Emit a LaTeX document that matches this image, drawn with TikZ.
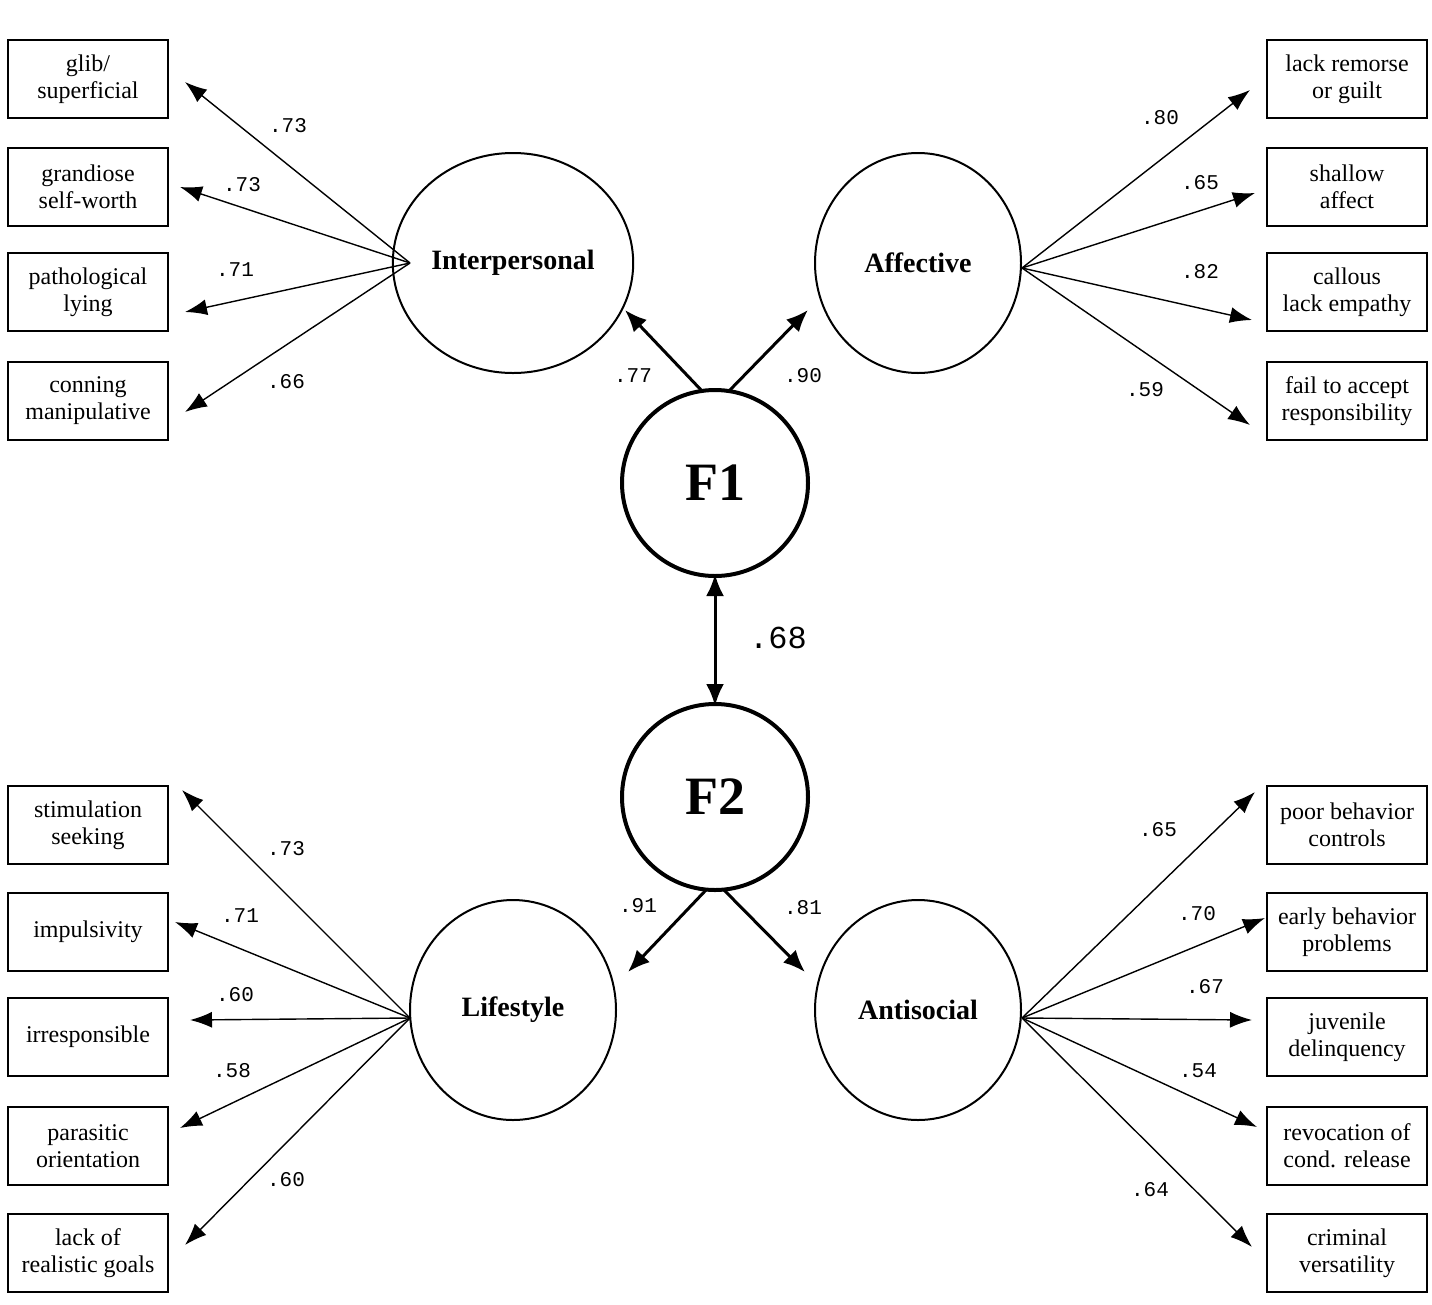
\documentclass[tikz,border=0pt]{standalone}
\usepackage{fontspec}
\setmainfont{Liberation Serif}
\newfontfamily\monof{Liberation Mono}
\usetikzlibrary{arrows.meta,shapes.geometric}
\begin{document}
\begin{tikzpicture}[x=1pt,y=-1pt,
 box/.style={draw,line width=1.6pt,minimum width=160pt,minimum height=78pt,inner sep=0pt,align=center,font=\fontsize{24}{27}\selectfont},
 lat/.style={draw,ellipse,line width=2pt,minimum width=206pt,minimum height=220pt,font=\bfseries\fontsize{28}{30}\selectfont},
 big/.style={draw,ellipse,line width=4pt,minimum width=186pt,minimum height=186pt,font=\bfseries\fontsize{54}{56}\selectfont},
 ar/.style={line width=1.4pt,-{Latex[length=22pt,width=16pt]}},
 ar2/.style={line width=3pt,-{Latex[length=22pt,width=18pt]}},
 num/.style={font=\monof\fontsize{21}{22}\selectfont}]
\useasboundingbox (0,0) rectangle (1432,1304);
\node[lat] (ip) at (513,263) {Interpersonal};
\node[lat] (af) at (918,263) {Affective};
\node[lat] (ls) at (513,1010) {Lifestyle};
\node[lat] (as) at (918,1010) {Antisocial};
\node[big] (f1) at (715,483) {F1};
\node[big] (f2) at (715,797) {F2};
\node[box] (l1) at (88,79) {glib/\\superficial};
\node[box] (l2) at (88,187) {grandiose\\self-worth};
\node[box] (l3) at (88,292) {pathological\\lying};
\node[box] (l4) at (88,401) {conning\\manipulative};
\node[box] (r1) at (1347,79) {lack remorse\\or guilt};
\node[box] (r2) at (1347,187) {shallow\\affect};
\node[box] (r3) at (1347,292) {callous\\lack empathy};
\node[box] (r4) at (1347,401) {fail to accept\\responsibility};
\node[box] (l5) at (88,825) {stimulation\\seeking};
\node[box] (l6) at (88,932) {impulsivity};
\node[box] (l7) at (88,1037) {irresponsible};
\node[box] (l8) at (88,1146) {parasitic\\orientation};
\node[box] (l9) at (88,1253) {lack of\\realistic goals};
\node[box] (r5) at (1347,825) {poor behavior\\controls};
\node[box] (r6) at (1347,932) {early behavior\\problems};
\node[box] (r7) at (1347,1037) {juvenile\\delinquency};
\node[box] (r8) at (1347,1146) {revocation of\\cond. release};
\node[box] (r9) at (1347,1253) {criminal\\versatility};
\coordinate (tl1) at (185,82); \coordinate (tl2) at (180,187); \coordinate (tl3) at (185,312); \coordinate (tl4) at (185,412);
\coordinate (tr1) at (1250,90); \coordinate (tr2) at (1255,193); \coordinate (tr3) at (1252,320); \coordinate (tr4) at (1250,425);
\coordinate (tl5) at (182,790); \coordinate (tl6) at (175,922); \coordinate (tl7) at (190,1020); \coordinate (tl8) at (180,1128); \coordinate (tl9) at (185,1245);
\coordinate (tr5) at (1255,792); \coordinate (tr6) at (1265,918); \coordinate (tr7) at (1252,1020); \coordinate (tr8) at (1257,1127); \coordinate (tr9) at (1252,1247);
\coordinate (ipo) at (410,263); \coordinate (afo) at (1022,268);
\coordinate (lso) at (410,1018); \coordinate (aso) at (1022,1018);
\foreach \t in {tl1,tl2,tl3,tl4} \draw[ar] (ipo) -- (\t);
\foreach \t in {tr1,tr2,tr3,tr4} \draw[ar] (afo) -- (\t);
\foreach \t in {tl5,tl6,tl7,tl8,tl9} \draw[ar] (lso) -- (\t);
\foreach \t in {tr5,tr6,tr7,tr8,tr9} \draw[ar] (aso) -- (\t);
\coordinate (f1a) at (703,392); \coordinate (f1b) at (728,392);
\coordinate (ipt) at (625,310); \coordinate (aft) at (808,310);
\draw[ar2] (f1a) -- (ipt);
\draw[ar2] (f1b) -- (aft);
\coordinate (f2a) at (706,890); \coordinate (f2b) at (724,890);
\coordinate (lst) at (628,972); \coordinate (ast) at (805,972);
\draw[ar2] (f2a) -- (lst);
\draw[ar2] (f2b) -- (ast);
\draw[line width=3pt,{Latex[length=22pt,width=18pt]}-{Latex[length=22pt,width=18pt]}] ([yshift=4pt]f1.south) -- ([yshift=-4pt]f2.north);
\node[num] (n1) at (288,126) {.73}; \node[num] (n2) at (242,185) {.73};
\node[num] (n3) at (235,270) {.71}; \node[num] (n4) at (286,382) {.66};
\node[num] (n5) at (1160,118) {.80}; \node[num] (n6) at (1200,183) {.65};
\node[num] (n7) at (1200,272) {.82}; \node[num] (n8) at (1145,390) {.59};
\node[num] (n9) at (633,376) {.77}; \node[num] (n10) at (803,376) {.90};
\node[num,font=\monof\fontsize{32}{34}\selectfont] (n11) at (778,638) {.68};
\node[num] (n12) at (638,906) {.91}; \node[num] (n13) at (803,908) {.81};
\node[num] (n14) at (286,849) {.73}; \node[num] (n15) at (240,916) {.71};
\node[num] (n16) at (235,995) {.60}; \node[num] (n17) at (232,1071) {.58};
\node[num] (n18) at (286,1180) {.60};
\node[num] (n19) at (1158,830) {.65}; \node[num] (n20) at (1197,914) {.70};
\node[num] (n21) at (1205,987) {.67}; \node[num] (n22) at (1198,1071) {.54};
\node[num] (n23) at (1150,1190) {.64};
\end{tikzpicture}
\end{document}
